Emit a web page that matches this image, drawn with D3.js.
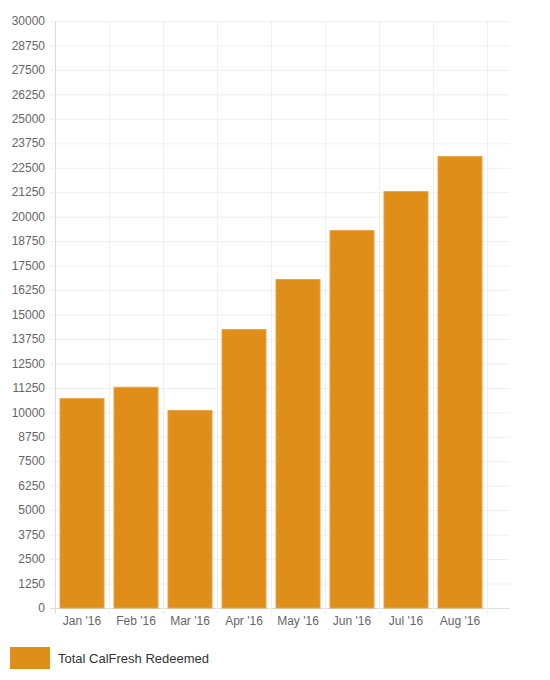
<!DOCTYPE html>
<html><head><meta charset="utf-8">
<script src="https://cdn.jsdelivr.net/npm/d3@7"></script>
<style>body{margin:0;background:#fff;font-family:"Liberation Sans",Arial,sans-serif}</style>
</head><body><div id="chart"></div>
<script>
var months = ["Jan '16","Feb '16","Mar '16","Apr '16","May '16","Jun '16","Jul '16","Aug '16"]
  , redeemed = [10700, 11280, 10100, 14230, 16790, 19290, 21280, 23070]
  , yTicks = d3.range(0, 30001, 1250)
  , seriesName = "Total CalFresh Redeemed"
  ;

(function () {
var svg = d3.select("#chart").append("svg").attr("width", 550).attr("height", 680)
  , plotLeft = 55, plotRight = 487, plotTop = 21, plotBottom = 608
  , x = d3.scaleBand().domain(months).range([plotLeft, plotRight]).paddingInner(0.185).paddingOuter(0.0925)
  , y = d3.scaleLinear().domain([0, 30000]).range([plotBottom, plotTop])
  , color = "#E08E1A"
  ;

// horizontal grid
svg.append("g").selectAll("line").data(yTicks).enter().append("line")
  .attr("x1", plotLeft - 5).attr("x2", 510)
  .attr("y1", function (d) { return y(d) + 0.5 })
  .attr("y2", function (d) { return y(d) + 0.5 })
  .attr("stroke", function (d) { return d === 0 ? "#ddd" : "#eee" });

// vertical grid
svg.append("g").selectAll("line").data(d3.range(months.length + 1)).enter().append("line")
  .attr("x1", function (i) { return plotLeft + i * x.step() + 0.5 })
  .attr("x2", function (i) { return plotLeft + i * x.step() + 0.5 })
  .attr("y1", plotTop).attr("y2", plotBottom + 6)
  .attr("stroke", function (i) { return i === 0 ? "#ddd" : "#f0f0f0" });

svg.append("g").selectAll("text").data(yTicks).enter().append("text")
  .attr("x", plotLeft - 10).attr("y", function (d) { return y(d) })
  .attr("dy", "0.35em").attr("text-anchor", "end")
  .attr("fill", "#666").attr("font-size", 12)
  .text(function (d) { return d });

svg.append("g").selectAll("rect").data(redeemed).enter().append("rect")
  .attr("x", function (d, i) { return x(months[i]) })
  .attr("y", function (d) { return y(d) })
  .attr("width", x.bandwidth())
  .attr("height", function (d) { return plotBottom - y(d) })
  .attr("fill", color).attr("stroke", "#E8A34A").attr("stroke-width", 1);

svg.append("g").selectAll("text").data(months).enter().append("text")
  .attr("x", function (d) { return x(d) + x.bandwidth() / 2 })
  .attr("y", plotBottom + 17)
  .attr("text-anchor", "middle").attr("fill", "#666").attr("font-size", 12)
  .text(function (d) { return d });

svg.append("rect").attr("x", 10).attr("y", 647).attr("width", 40).attr("height", 22).attr("fill", color);
svg.append("text").attr("x", 58).attr("y", 658).attr("dy", "0.35em")
  .attr("fill", "#333").attr("font-size", 13).text(seriesName);
})();
</script></body></html>
